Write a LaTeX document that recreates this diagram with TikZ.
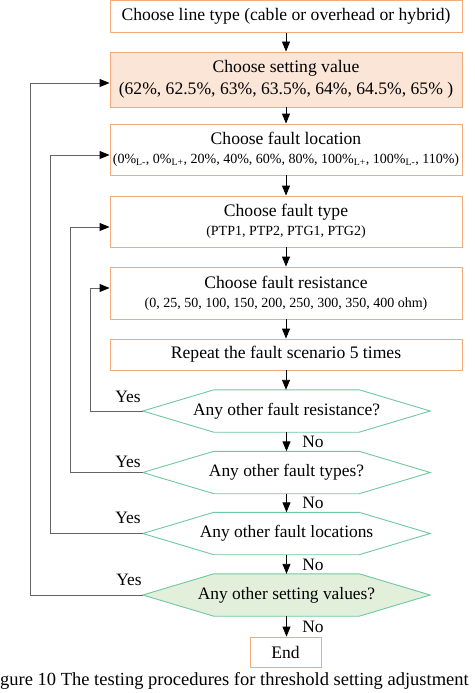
\documentclass[tikz,border=0pt]{standalone}
\usepackage{fontspec}
\setmainfont{Liberation Serif}
\usetikzlibrary{calc,arrows.meta,backgrounds}
\definecolor{boxor}{RGB}{241,172,122}
\definecolor{boxfill}{RGB}{251,229,214}
\definecolor{hexgr}{RGB}{112,200,160}
\definecolor{hexfill}{RGB}{226,239,218}
\definecolor{loopc}{RGB}{100,100,100}
\begin{document}
\begin{tikzpicture}[x=1pt,y=-1pt,
  box/.style={draw=boxor,line width=0.9pt,minimum width=352pt,inner sep=0pt,align=center,font=\fontsize{17.6}{21}\selectfont},
  hexnode/.style={minimum width=287pt,minimum height=42pt,inner sep=0pt,font=\fontsize{17.4}{20}\selectfont},
  hexline/.style={draw=hexgr,line width=0.9pt},
  flow/.style={-{Triangle[length=10pt,width=8pt]},line width=0.9pt},
  loop/.style={draw=loopc,line width=0.9pt,-{Triangle[length=10pt,width=8pt,color=black]}},
  lab/.style={font=\fontsize{17.4}{20}\selectfont,inner sep=0pt}]
\useasboundingbox (0,0) rectangle (474,693);

\node[box,minimum height=32pt] (b1) at (286,16.5) {Choose line type (cable or overhead or hybrid)};
\node[box,minimum height=55pt,fill=boxfill] (b2) at (286,79.5) {Choose setting value\\[1pt](62\%, 62.5\%, 63\%, 63.5\%, 64\%, 64.5\%, 65\% )};
\node[box,minimum height=51pt] (b3) at (286,149.5) {Choose fault location\\[-2pt]{\fontsize{14}{16}\selectfont (0\%\textsubscript{L-}, 0\%\textsubscript{L+}, 20\%, 40\%, 60\%, 80\%, 100\%\textsubscript{L+}, 100\%\textsubscript{L-}, 110\%)}};
\node[box,minimum height=51pt] (b4) at (286,221.5) {Choose fault type\\[-2pt]{\fontsize{14}{16}\selectfont (PTP1, PTP2, PTG1, PTG2)}};
\node[box,minimum height=52pt] (b5) at (286,293) {Choose fault resistance\\[-2pt]{\fontsize{14}{16}\selectfont (0, 25, 50, 100, 150, 200, 250, 300, 350, 400 ohm)}};
\node[box,minimum height=31pt] (b6) at (286,354.5) {Repeat the fault scenario 5 times};

\node[hexnode] (h1) at (286.5,411) {Any other fault resistance?};
\node[hexnode] (h2) at (286.5,472.5) {Any other fault types?};
\node[hexnode] (h3) at (286.5,533.5) {Any other fault locations};
\node[hexnode] (h4) at (286.5,595) {Any other setting values?};

\node[box,minimum width=71pt,minimum height=30pt] (e) at (285.5,652) {End};

\begin{scope}[on background layer]
\foreach \h/\f in {h1/white,h2/white,h3/white,h4/hexfill}{
  \draw[hexline,fill=\f] (\h.west) -- ([xshift=71pt]\h.north west) -- ([xshift=-71pt]\h.north east) -- (\h.east) -- ([xshift=-71pt]\h.south east) -- ([xshift=71pt]\h.south west) -- cycle;
}
\end{scope}

\draw[flow] (b1) -- (b2);
\draw[flow] (b2) -- (b3);
\draw[flow] (b3) -- (b4);
\draw[flow] (b4) -- (b5);
\draw[flow] (b5) -- (b6);
\draw[flow] (b6.south) -- (b6.south |- h1.north);
\draw[flow] (h1.south) -- (h2.north);
\draw[flow] (h2.south) -- (h3.north);
\draw[flow] (h3.south) -- (h4.north);
\draw[flow] (h4.south) -- (h4.south |- e.north);

\draw[loop] (h1.west) -- (90,411) -- (90,288) -- (b5.west |- {(0,288)});
\draw[loop] (h2.west) -- (70,472.5) -- (70,227) -- (b4.west |- {(0,227)});
\draw[loop] (h3.west) -- (50,533.5) -- (50,155) -- (b3.west |- {(0,155)});
\draw[loop] (h4.west) -- (30,595) -- (30,83) -- (b2.west |- {(0,83)});

\node[lab] (y1) at (128,397) {Yes};
\node[lab] (y2) at (128,462) {Yes};
\node[lab] (y3) at (128,518) {Yes};
\node[lab] (y4) at (129,580) {Yes};
\node[lab] (n1) at (313,442) {No};
\node[lab] (n2) at (313,503) {No};
\node[lab] (n3) at (313,565) {No};
\node[lab] (n4) at (313,627) {No};

\node[anchor=west,inner sep=0pt,font=\fontsize{18.5}{22}\selectfont] (cap) at (0,681) {gure 10 The testing procedures for threshold setting adjustment};
\end{tikzpicture}
\end{document}
